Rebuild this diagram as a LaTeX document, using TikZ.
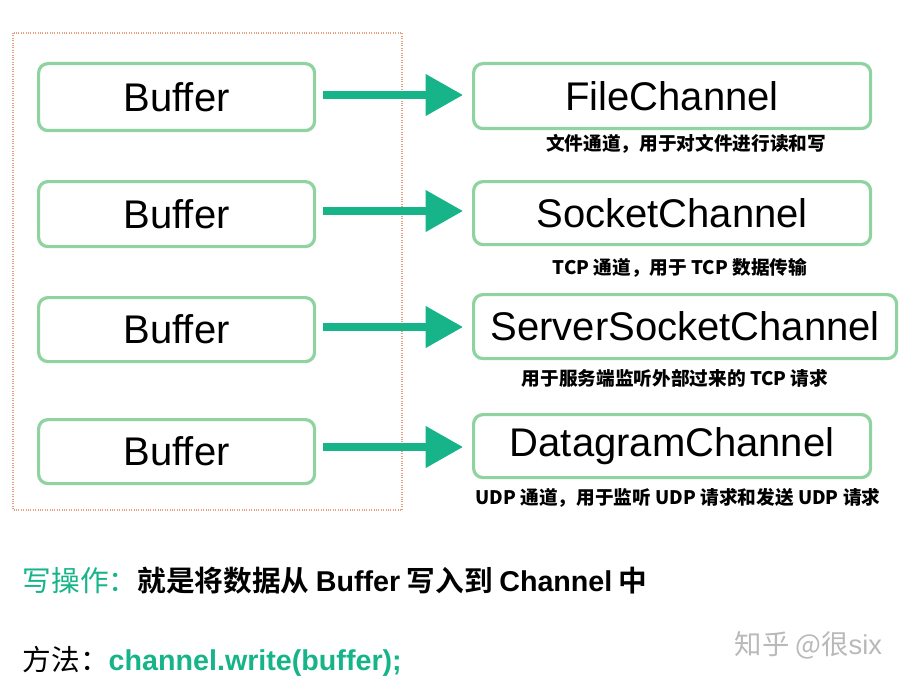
\documentclass[tikz,border=0pt]{standalone}
\usepackage{fontspec}
\setmainfont{Liberation Sans}
\newfontfamily\cjk{Noto Sans CJK SC}
\newfontfamily\cjkb{Noto Sans CJK SC Bold}
\usetikzlibrary{arrows.meta}
\definecolor{bord}{HTML}{8FD3A0}
\definecolor{arr}{HTML}{17B48A}
\definecolor{dot}{HTML}{E8A080}
\begin{document}
\begin{tikzpicture}[x=0.75pt,y=-0.75pt,
 box/.style={draw=bord,line width=2.4pt,rounded corners=7pt,font=\fontsize{30}{33}\selectfont},
 ar/.style={draw=arr,line width=5.5pt,-{Triangle[length=28pt,width=30pt]}},
 captxt/.style={font=\fontsize{14}{16}\bfseries\cjkb}]
\useasboundingbox (0,0) rectangle (905,681);
\draw[dot,densely dotted,line width=0.8pt] (13,33) rectangle (402,510);
\foreach \n/\y/\h in {1/62/67,2/180/65,3/296/64,4/418/64}{
 \node[box,minimum width=276*0.75pt,minimum height=\h*0.75pt,anchor=north west] (b\n) at (37,\y) {Buffer};}
\node[box,minimum width=397*0.75pt,minimum height=65*0.75pt,anchor=north west] (c1) at (472,62) {FileChannel};
\node[box,minimum width=397*0.75pt,minimum height=63*0.75pt,anchor=north west] (c2) at (472,180) {SocketChannel};
\node[box,minimum width=423*0.75pt,minimum height=64*0.75pt,anchor=north west] (c3) at (472,293) {ServerSocketChannel};
\node[box,minimum width=397*0.75pt,minimum height=63*0.75pt,anchor=north west] (c4) at (472,413) {DatagramChannel};
\coordinate (s1) at (323,95); \coordinate (e1) at (463,95);
\coordinate (s2) at (323,211); \coordinate (e2) at (463,211);
\coordinate (s3) at (323,327); \coordinate (e3) at (463,327);
\coordinate (s4) at (323,447); \coordinate (e4) at (463,447);
\foreach \i in {1,...,4} \draw[ar] (s\i) -- (e\i);
\node[captxt] (t1) at (686,144) {文件通道，用于对文件进行读和写};
\node[captxt] (t2) at (680,268) {TCP 通道，用于 TCP 数据传输};
\node[captxt] (t3) at (675,378) {用于服务端监听外部过来的 TCP 请求};
\node[captxt] (t4) at (678,498) {UDP 通道，用于监听 UDP 请求和发送 UDP 请求};
\node[anchor=west,font=\fontsize{21.5}{24}\selectfont] (w) at (18,581) {\textcolor{arr}{\cjk 写操作：}{\cjkb 就是将数据从 {\bfseries\rmfamily Buffer} 写入到 {\bfseries\rmfamily Channel} 中}};
\node[anchor=west,font=\fontsize{21.5}{24}\selectfont] (m) at (18,661) {{\cjk 方法：}\textcolor{arr}{\bfseries channel.write(buffer);}};
\node[anchor=west,text=gray!55,font=\fontsize{20.5}{23}\selectfont] (wm) at (730,645) {{\cjk 知乎 @很}six};
\end{tikzpicture}
\end{document}
